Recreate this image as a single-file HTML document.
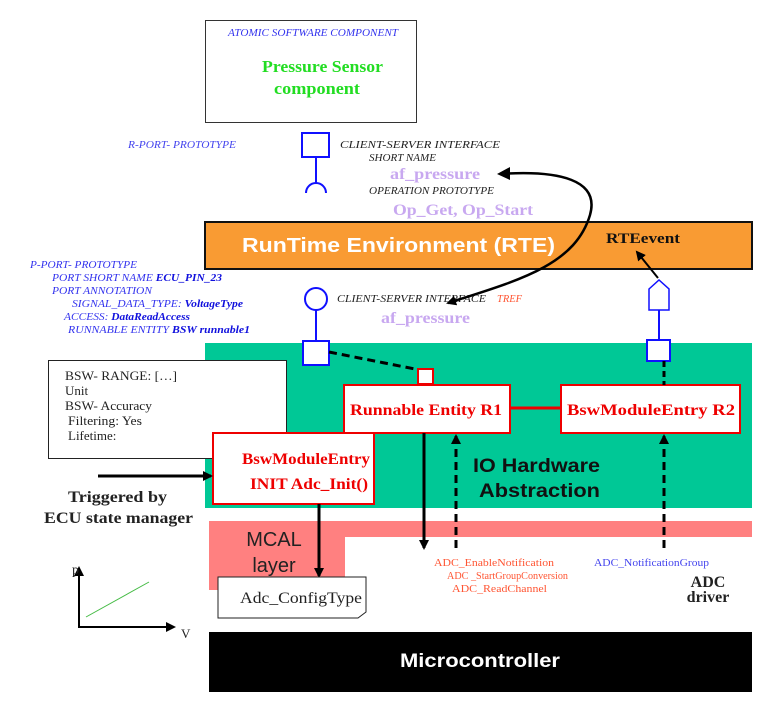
<!DOCTYPE html>
<html><head><meta charset="utf-8"><style>
body{margin:0;background:#fff}
svg{display:block}
.s{font-family:"Liberation Serif",serif}
.a{font-family:"Liberation Sans",sans-serif}
</style></head><body>
<svg width="765" height="703" viewBox="0 0 765 703" xmlns="http://www.w3.org/2000/svg">
<defs>
<marker id="ah" markerWidth="10" markerHeight="10" refX="8" refY="5" orient="auto" markerUnits="userSpaceOnUse"><path d="M0,0 L10,5 L0,10 z" fill="#000"/></marker>
</defs>
<rect x="205.5" y="20.5" width="211" height="102" fill="#fff" stroke="#333" stroke-width="1"/>
<text x="228" y="36" class="s" font-size="10" font-style="italic" fill="#3333ee" textLength="170" lengthAdjust="spacingAndGlyphs">ATOMIC SOFTWARE COMPONENT</text>
<text x="262" y="72" class="s" font-size="17" font-weight="bold" fill="#22dd22" textLength="121" lengthAdjust="spacingAndGlyphs">Pressure Sensor</text>
<text x="274" y="94" class="s" font-size="17" font-weight="bold" fill="#22dd22" textLength="86" lengthAdjust="spacingAndGlyphs">component</text>
<rect x="302" y="133" width="27" height="24" fill="#fff" stroke="#1010ff" stroke-width="2"/>
<line x1="316" y1="157" x2="316" y2="184" stroke="#1010ff" stroke-width="2"/>
<path d="M306,193 A10,10 0 0 1 326,193" fill="none" stroke="#1010ff" stroke-width="2"/>
<text x="128" y="148" class="s" font-size="10" font-style="italic" fill="#4444ee" textLength="108" lengthAdjust="spacingAndGlyphs">R-PORT- PROTOTYPE</text>
<text x="340" y="148" class="s" font-size="10" font-style="italic" fill="#222" textLength="160" lengthAdjust="spacingAndGlyphs">CLIENT-SERVER INTERFACE</text>
<text x="369" y="161" class="s" font-size="10" font-style="italic" fill="#222" textLength="67" lengthAdjust="spacingAndGlyphs">SHORT NAME</text>
<text x="390" y="179" class="s" font-size="16" font-weight="bold" fill="#c8a8f0" textLength="90" lengthAdjust="spacingAndGlyphs">af_pressure</text>
<text x="369" y="194" class="s" font-size="10" font-style="italic" fill="#222" textLength="125" lengthAdjust="spacingAndGlyphs">OPERATION PROTOTYPE</text>
<text x="393" y="215" class="s" font-size="16" font-weight="bold" fill="#c8a8f0" textLength="140" lengthAdjust="spacingAndGlyphs">Op_Get, Op_Start</text>
<rect x="205" y="222" width="547" height="47" fill="#f99b33" stroke="#111" stroke-width="2"/>
<text x="242" y="252" class="a" font-size="20" font-weight="bold" fill="#fff" textLength="313" lengthAdjust="spacingAndGlyphs">RunTime Environment  (RTE)</text>
<text x="606" y="243" class="s" font-size="15" font-weight="bold" fill="#111" textLength="74" lengthAdjust="spacingAndGlyphs">RTEevent</text>
<g class="s" font-size="10" font-style="italic">
<text x="30" y="268" fill="#3333ee" textLength="107" lengthAdjust="spacingAndGlyphs">P-PORT- PROTOTYPE</text>
<text x="52" y="281" fill="#3333ee" textLength="170" lengthAdjust="spacingAndGlyphs">PORT SHORT NAME  <tspan font-weight="bold" fill="#1010dd">ECU_PIN_23</tspan></text>
<text x="52" y="294" fill="#3333ee" textLength="100" lengthAdjust="spacingAndGlyphs">PORT ANNOTATION</text>
<text x="72" y="307" fill="#3333ee" textLength="171" lengthAdjust="spacingAndGlyphs">SIGNAL_DATA_TYPE:  <tspan font-weight="bold" fill="#1010dd">VoltageType</tspan></text>
<text x="64" y="320" fill="#3333ee" textLength="126" lengthAdjust="spacingAndGlyphs">ACCESS:  <tspan font-weight="bold" fill="#1010dd">DataReadAccess</tspan></text>
<text x="68" y="333" fill="#3333ee" textLength="182" lengthAdjust="spacingAndGlyphs">RUNNABLE ENTITY    <tspan font-weight="bold" fill="#1010dd">BSW runnable1</tspan></text>
</g>
<rect x="205" y="343" width="547" height="165" fill="#00c896"/>
<circle cx="316" cy="299" r="11" fill="#fff" stroke="#1010ff" stroke-width="2"/>
<line x1="316" y1="310" x2="316" y2="341" stroke="#1010ff" stroke-width="2"/>
<rect x="303" y="341" width="26" height="24" fill="#fff" stroke="#1010ff" stroke-width="2"/>
<text x="337" y="302" class="s" font-size="10" font-style="italic" fill="#222" textLength="149" lengthAdjust="spacingAndGlyphs">CLIENT-SERVER INTERFACE</text>
<text x="497" y="302" class="s" font-size="10" font-style="italic" fill="#ff5533" textLength="25" lengthAdjust="spacingAndGlyphs">TREF</text>
<text x="381" y="323" class="s" font-size="16" font-weight="bold" fill="#c8a8f0" textLength="89" lengthAdjust="spacingAndGlyphs">af_pressure</text>
<path d="M649,289 L659,280 L669,289 L669,310 L649,310 z" fill="#fff" stroke="#1010ff" stroke-width="1.5"/>
<line x1="659" y1="310" x2="659" y2="340" stroke="#1010ff" stroke-width="2"/>
<rect x="647" y="340" width="23" height="21" fill="#fff" stroke="#1010ff" stroke-width="2"/>
<line x1="658" y1="278" x2="637" y2="252" stroke="#000" stroke-width="2" marker-end="url(#ah)"/>
<path d="M500,174 C560,170 600,180 590,215 C575,265 520,280 448,303" fill="none" stroke="#000" stroke-width="2.5" marker-end="url(#ah)"/>
<path d="M510,167 L497,174 L510,180 z" fill="#000"/>
<line x1="329" y1="352" x2="420" y2="370" stroke="#000" stroke-width="3" stroke-dasharray="8,5"/>
<rect x="418" y="369" width="15" height="15" fill="#fff" stroke="#e00" stroke-width="2"/>
<rect x="48.5" y="360.5" width="238" height="98" fill="#fff" stroke="#222" stroke-width="1"/>
<g class="s" font-size="13" fill="#222">
<text x="65" y="380" textLength="112" lengthAdjust="spacingAndGlyphs">BSW- RANGE: […]</text>
<text x="65" y="395">Unit</text>
<text x="65" y="410" textLength="87" lengthAdjust="spacingAndGlyphs">BSW- Accuracy</text>
<text x="68" y="425" textLength="74" lengthAdjust="spacingAndGlyphs">Filtering: Yes</text>
<text x="68" y="440">Lifetime:</text>
</g>
<line x1="510" y1="408" x2="560" y2="408" stroke="#e00" stroke-width="3"/>
<rect x="344" y="385" width="166" height="48" fill="#fff" stroke="#e00" stroke-width="2"/>
<text x="350" y="415" class="s" font-size="16" font-weight="bold" fill="#e00" textLength="152" lengthAdjust="spacingAndGlyphs">Runnable Entity R1</text>
<rect x="561" y="385" width="179" height="48" fill="#fff" stroke="#e00" stroke-width="2"/>
<text x="567" y="415" class="s" font-size="16" font-weight="bold" fill="#e00" textLength="168" lengthAdjust="spacingAndGlyphs">BswModuleEntry R2</text>
<line x1="664" y1="361" x2="664" y2="385" stroke="#000" stroke-width="3" stroke-dasharray="6,4"/>
<rect x="213" y="433" width="161" height="71" fill="#fff" stroke="#e00" stroke-width="2"/>
<text x="242" y="464" class="s" font-size="16" font-weight="bold" fill="#e00" textLength="128" lengthAdjust="spacingAndGlyphs">BswModuleEntry</text>
<text x="250" y="489" class="s" font-size="16" font-weight="bold" fill="#e00" textLength="118" lengthAdjust="spacingAndGlyphs">INIT Adc_Init()</text>
<line x1="98" y1="476" x2="211" y2="476" stroke="#000" stroke-width="3" marker-end="url(#ah)"/>
<text x="68" y="502" class="s" font-size="16" font-weight="bold" fill="#222" textLength="99" lengthAdjust="spacingAndGlyphs">Triggered by</text>
<text x="44" y="523" class="s" font-size="16" font-weight="bold" fill="#222" textLength="149" lengthAdjust="spacingAndGlyphs">ECU state manager</text>
<text x="473" y="472" class="a" font-size="19" font-weight="bold" fill="#111" textLength="127" lengthAdjust="spacingAndGlyphs">IO Hardware</text>
<text x="479" y="497" class="a" font-size="19" font-weight="bold" fill="#111" textLength="121" lengthAdjust="spacingAndGlyphs">Abstraction</text>
<path d="M209,521 L752,521 L752,537 L345,537 L345,590 L209,590 z" fill="#ff8080"/>
<text x="274" y="546" class="a" font-size="20" fill="#222" text-anchor="middle">MCAL</text>
<text x="274" y="572" class="a" font-size="20" fill="#222" text-anchor="middle">layer</text>
<line x1="424" y1="433" x2="424" y2="548" stroke="#000" stroke-width="3" marker-end="url(#ah)"/>
<line x1="456" y1="548" x2="456" y2="436" stroke="#000" stroke-width="3" stroke-dasharray="8,5" marker-end="url(#ah)"/>
<line x1="664" y1="548" x2="664" y2="436" stroke="#000" stroke-width="3" stroke-dasharray="8,5" marker-end="url(#ah)"/>
<line x1="319" y1="504" x2="319" y2="576" stroke="#000" stroke-width="3" marker-end="url(#ah)"/>
<path d="M218,577 L366,577 L366,612 L358,618 L218,618 z" fill="#fff" stroke="#222" stroke-width="1"/>
<text x="240" y="603" class="s" font-size="16" fill="#222" textLength="122" lengthAdjust="spacingAndGlyphs">Adc_ConfigType</text>
<g class="s" font-size="10">
<text x="434" y="566" fill="#ff5533" textLength="120" lengthAdjust="spacingAndGlyphs">ADC_EnableNotification</text>
<text x="447" y="579" fill="#ff5533" textLength="121" lengthAdjust="spacingAndGlyphs">ADC  _StartGroupConversion</text>
<text x="452" y="592" fill="#ff5533" textLength="95" lengthAdjust="spacingAndGlyphs">ADC_ReadChannel</text>
<text x="594" y="566" fill="#4444ee" textLength="115" lengthAdjust="spacingAndGlyphs">ADC_NotificationGroup</text>
</g>
<text x="708" y="587" class="s" font-size="16" font-weight="bold" fill="#222" text-anchor="middle">ADC</text>
<text x="708" y="602" class="s" font-size="16" font-weight="bold" fill="#222" text-anchor="middle">driver</text>
<line x1="79" y1="628" x2="79" y2="568" stroke="#000" stroke-width="2" marker-end="url(#ah)"/>
<line x1="78" y1="627" x2="174" y2="627" stroke="#000" stroke-width="2" marker-end="url(#ah)"/>
<line x1="86" y1="617" x2="149" y2="582" stroke="#44bb44" stroke-width="1"/>
<text x="72" y="574" class="s" font-size="14" fill="#222">p</text>
<text x="181" y="638" class="s" font-size="13" fill="#222">V</text>
<rect x="209" y="632" width="543" height="60" fill="#000"/>
<text x="400" y="667" class="a" font-size="19" font-weight="bold" fill="#fff" textLength="160" lengthAdjust="spacingAndGlyphs">Microcontroller</text>
</svg>
</body></html>
